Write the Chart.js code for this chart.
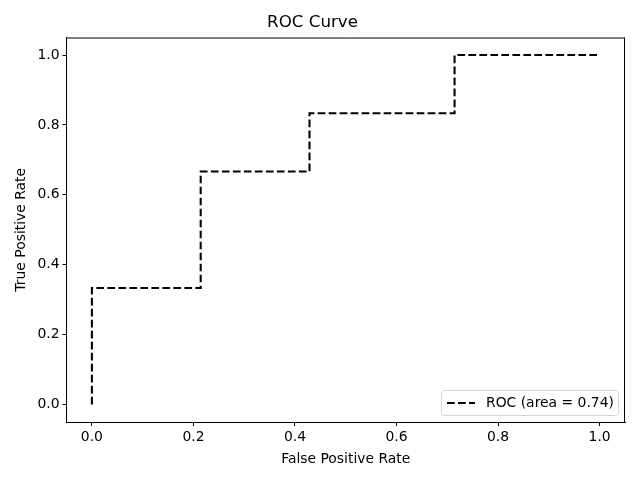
<!DOCTYPE html>
<html><head><meta charset="utf-8">
<script src="https://cdn.jsdelivr.net/npm/chart.js@4"></script>
<style>html,body{margin:0;padding:0;background:#fff}#w{width:640px;height:480px}</style>
</head><body><div id="w"><canvas id="c"></canvas></div>
<script>
const fpr = [0, 0, 0.2143, 0.2143, 0.4286, 0.4286, 0.7143, 0.7143, 1.0];
const tpr = [0, 0.3333, 0.3333, 0.6667, 0.6667, 0.8333, 0.8333, 1.0, 1.0];
const tickValues = [0, 0.2, 0.4, 0.6, 0.8, 1.0];
const seriesLabel = 'ROC (area = 0.74)';
const chartTitle = 'ROC Curve';
const xLabel = 'False Positive Rate';
const yLabel = 'True Positive Rate';

const FONT = "'DejaVu Sans', sans-serif";
Chart.defaults.font.family = FONT;
Chart.defaults.color = '#000';
const DASH = [7.7, 3.3];
const LW = 2.08;

const legendBox = {
  id: 'legendBox',
  afterDatasetsDraw(chart) {
    const ctx = chart.ctx, a = chart.chartArea;
    const x0 = a.right - 184, y0 = a.bottom - 32, w = 177, h = 25;
    ctx.save();
    ctx.beginPath();
    ctx.roundRect(x0 + 0.5, y0 + 0.5, w, h, 3);
    ctx.fillStyle = 'rgba(255,255,255,0.8)';
    ctx.fill();
    ctx.strokeStyle = '#d6d6d6';
    ctx.lineWidth = 1;
    ctx.stroke();
    ctx.beginPath();
    ctx.setLineDash(DASH);
    ctx.lineWidth = LW;
    ctx.strokeStyle = '#000';
    ctx.moveTo(x0 + 6, y0 + 13);
    ctx.lineTo(x0 + 34, y0 + 13);
    ctx.stroke();
    ctx.setLineDash([]);
    ctx.fillStyle = '#000';
    ctx.font = '13.9px ' + FONT;
    ctx.textBaseline = 'middle';
    ctx.fillText(chart.data.datasets[0].label, x0 + 45, y0 + 13.5);
    ctx.restore();
  }
};

const pts = fpr.map((x, i) => ({x: x, y: tpr[i]}));
const setTicks = s => { s.ticks = tickValues.map(v => ({value: v})); };

new Chart(document.getElementById('c'), {
  type: 'scatter',
  data: { datasets: [{
    label: seriesLabel, data: pts, showLine: true,
    borderColor: '#000', borderWidth: LW, borderDash: DASH,
    pointRadius: 0, fill: false, tension: 0
  }]},
  options: {
    responsive: true, maintainAspectRatio: false, animation: false,
    layout: { padding: { left: 0, right: 15, top: 0, bottom: 0 } },
    plugins: {
      legend: { display: false },
      tooltip: { enabled: false },
      title: { display: true, text: chartTitle, font: { size: 16.7, weight: 'normal' }, padding: { top: 13, bottom: 4.5 } }
    },
    scales: {
      x: {
        type: 'linear', min: -0.05, max: 1.05,
        afterBuildTicks: setTicks,
        afterFit: s => { s.height = 58; },
        grid: { display: true, drawOnChartArea: false, drawTicks: true, tickLength: 4, color: '#000' },
        border: { display: true, color: '#000', width: 1 },
        ticks: { font: { size: 13.9 }, padding: 3, maxRotation: 0, callback: v => v.toFixed(1) },
        title: { display: true, text: xLabel, font: { size: 13.9 }, padding: { top: 4, bottom: 12 } }
      },
      y: {
        type: 'linear', min: -0.05, max: 1.05,
        afterBuildTicks: setTicks,
        afterFit: s => { s.width = 66.5; },
        grid: { display: true, drawOnChartArea: false, drawTicks: true, tickLength: 4, color: '#000' },
        border: { display: true, color: '#000', width: 1 },
        ticks: { font: { size: 13.9 }, padding: 3, callback: v => v.toFixed(1) },
        title: { display: true, text: yLabel, font: { size: 13.9 }, padding: { top: 13, bottom: 4 } }
      }
    }
  },
  plugins: [legendBox, {
    id: 'frame',
    afterDraw(chart) {
      const ctx = chart.ctx, a = chart.chartArea;
      ctx.save(); ctx.strokeStyle = '#000'; ctx.lineWidth = 1;
      ctx.beginPath();
      ctx.moveTo(a.left, a.top + 0.5); ctx.lineTo(a.right, a.top + 0.5);
      ctx.moveTo(a.right - 0.5, a.top); ctx.lineTo(a.right - 0.5, a.bottom);
      ctx.stroke(); ctx.restore();
    }
  }]
});
</script></body></html>
